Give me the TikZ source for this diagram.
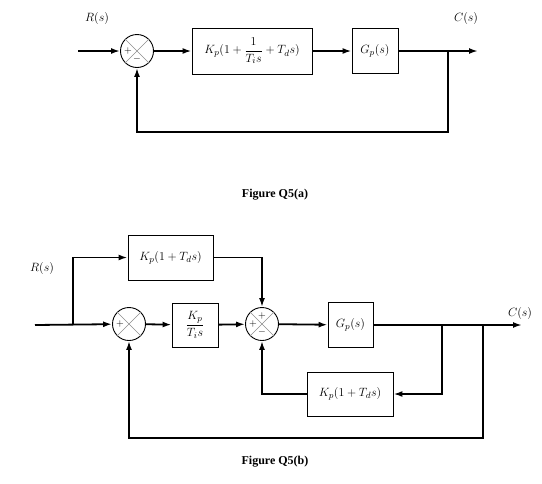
\documentclass[tikz,border=0pt]{standalone}
\usepackage{amsmath}
\usepackage{fontspec}
\setmainfont{Liberation Serif}
\usetikzlibrary{arrows.meta}

\begin{document}
\begin{tikzpicture}[x=1pt,y=-1pt]
    \tikzstyle{block}  = [draw,line width=0.9pt,inner sep=2pt,font=\fontsize{13}{15}\selectfont]
    \tikzstyle{sum}    = [draw,circle,line width=0.9pt,minimum size=33pt,inner sep=0pt]
    \tikzstyle{signal} = [line width=1.8pt,-{Latex[length=9pt,width=6pt]}]
    \tikzstyle{cross}  = [line width=0.4pt,black!45]
    \tikzstyle{sign}   = [font=\fontsize{10}{12}\selectfont,inner sep=0.5pt]
    \tikzstyle{label}  = [font=\fontsize{12}{14}\selectfont]
    \tikzstyle{caption}= [font=\bfseries\large]

    \useasboundingbox (0,0) rectangle (542,483);

    % Figure Q5(a)
    \node[sum]                                          (s1) at (137,51)  {};
    \node[block,minimum width=120pt,minimum height=46pt] (c1) at (252,51)  {$K_p(1+\dfrac{1}{T_i s}+T_d s)$};
    \node[block,minimum width=46pt,minimum height=45pt]  (g1) at (375,51)  {$G_p(s)$};
    \coordinate (in1)  at (78,51);
    \coordinate (out1) at (478,51);
    \coordinate (b1)   at (448,51);
    \coordinate (f1)   at (137,132);
    \node[label] (R1) at (97,18)  {$R(s)$};
    \node[label] (C1) at (466,18) {$C(s)$};

    \draw[cross] (s1.north west) -- (s1.south east) (s1.north east) -- (s1.south west);
    \node[sign] (p1) at ([xshift=-9pt]s1.center) {$+$};
    \node[sign] (m1) at ([yshift=-8pt]s1.center) {$-$};

    \draw[signal] (in1) -- (s1);
    \draw[signal] (s1) -- (c1);
    \draw[signal] (c1) -- (g1);
    \draw[signal] (g1) -- (out1);
    \draw[signal] (b1) |- (f1) -- (s1.south);

    \node[caption] (cap1) at (275,195) {Figure Q5(a)};

    % Figure Q5(b)
    \node[sum]                                           (s2) at (129,324)   {};
    \node[sum]                                           (s3) at (262,324)   {};
    \node[block,minimum width=85pt,minimum height=45pt]  (kd) at (170.5,257.5) {$K_p(1+T_d s)$};
    \node[block,minimum width=46pt,minimum height=44pt]  (ki) at (195,325)   {$\dfrac{K_p}{T_i s}$};
    \node[block,minimum width=45pt,minimum height=45pt]  (g2) at (350.5,325) {$G_p(s)$};
    \node[block,minimum width=86pt,minimum height=44pt]  (kf) at (350,394)   {$K_p(1+T_d s)$};
    \coordinate (in2)  at (35,325);
    \coordinate (b2)   at (73,325);
    \coordinate (t2)   at (73,257.5);
    \coordinate (t3)   at (262,257.5);
    \coordinate (out2) at (522,325);
    \coordinate (b3)   at (442,325);
    \coordinate (b4)   at (483,325);
    \coordinate (f2)   at (262,394);
    \coordinate (f3)   at (129,438);
    \node[label] (R2) at (42,268)  {$R(s)$};
    \node[label] (C2) at (520,313) {$C(s)$};

    \draw[cross] (s2.north west) -- (s2.south east) (s2.north east) -- (s2.south west);
    \draw[cross] (s3.north west) -- (s3.south east) (s3.north east) -- (s3.south west);
    \node[sign] (p2) at ([xshift=-9pt]s2.center) {$+$};
    \node[sign] (p3) at ([xshift=-9pt]s3.center) {$+$};
    \node[sign] (p4) at ([yshift=8pt]s3.center)  {$+$};
    \node[sign] (m3) at ([yshift=-8pt]s3.center) {$-$};

    \draw[signal] (in2) -- (s2);
    \draw[signal] (b2) -- (t2) -- (kd);
    \draw[signal] (kd) -- (t3) -- (s3.north);
    \draw[signal] (s2) -- (ki);
    \draw[signal] (ki) -- (s3);
    \draw[signal] (s3) -- (g2);
    \draw[signal] (g2) -- (out2);
    \draw[signal] (b3) |- (kf);
    \draw[signal] (kf) -- (f2) -- (s3.south);
    \draw[signal] (b4) |- (f3) -- (s2.south);

    \node[caption] (cap2) at (275,462) {Figure Q5(b)};
\end{tikzpicture}
\end{document}
